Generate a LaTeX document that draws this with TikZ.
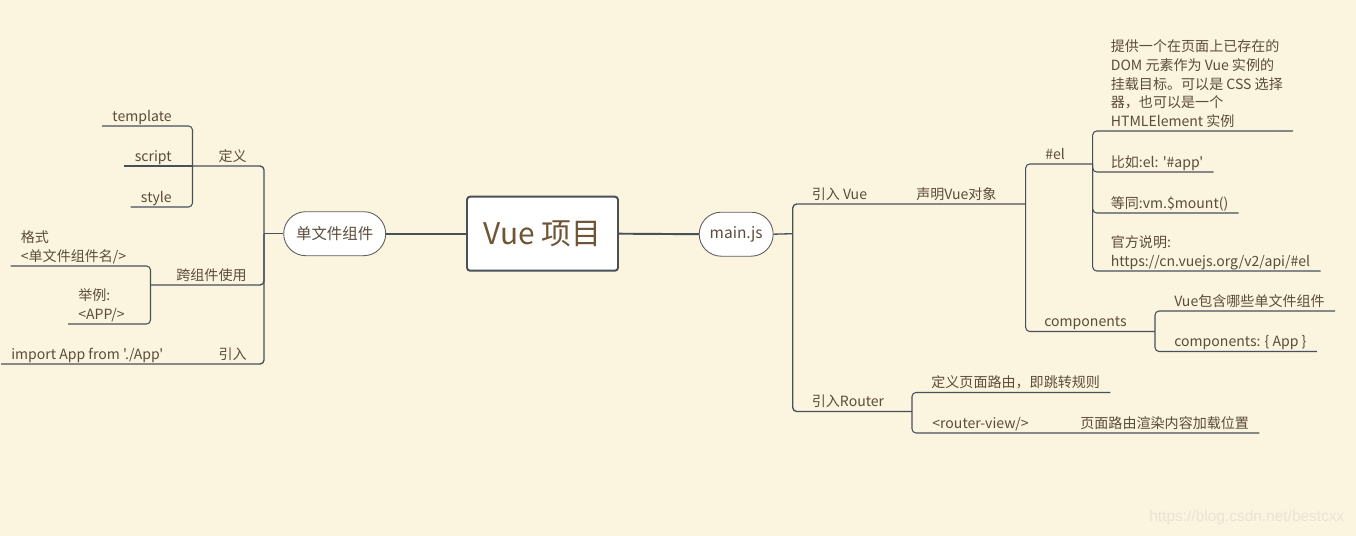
\documentclass[tikz,border=0pt]{standalone}
\usepackage{fontspec}
\setmainfont{Noto Sans CJK SC}[Ligatures=TeXOff]
\newfontfamily\wmfont{Liberation Sans}
\usepackage{tikz}
\usetikzlibrary{calc}

\definecolor{paper}{HTML}{FBF4DE}
\definecolor{ink}{HTML}{5C4C3B}
\definecolor{rootink}{HTML}{6F5535}
\definecolor{wire}{HTML}{48505A}
\definecolor{rim}{HTML}{5E5E5E}
\definecolor{wmark}{HTML}{E9E4D6}

\begin{document}
\begin{tikzpicture}[
  x=0.02cm, y=-0.02cm,
  hub/.style={draw=wire, line width=1.1pt, fill=white, rounded corners=0.06cm,
              minimum width=3.02cm, minimum height=1.48cm, inner sep=0pt,
              text=rootink, font=\fontsize{17}{20}\selectfont},
  pill/.style={draw=rim, line width=0.5pt, fill=white, rounded corners=0.44cm,
               minimum height=0.88cm, inner sep=0pt,
               text=ink, font=\fontsize{8.8}{11}\selectfont},
  topic/.style={inner xsep=0.2cm, inner ysep=0.085cm, text depth=0pt,
                align=left, text=ink, font=\fontsize{8}{10.6}\selectfont},
  main/.style={wire, line width=1.1pt},
  trunk/.style={wire, line width=0.75pt, rounded corners=0.08cm},
  twig/.style={wire, line width=0.6pt, rounded corners=0.08cm},
]
\useasboundingbox (0,0) rectangle (1356,536);
\fill[paper] (0,0) rectangle (1356,536);

% ---- Root and first level --------------------------------------------------
\node[hub]  (root) at (542.5,233.7) {Vue 项目};
\node[pill, minimum width=2.04cm] (sfc) at (334.7,233.7) {单文件组件};
\node[pill, minimum width=1.48cm] (mjs) at (736.2,234.2) {main.js};
\draw[main] (sfc.east) -- (root.west);
\draw[main] (root.east) -- (mjs.west);

% ---- Left: single file component ------------------------------------------
\coordinate (jl)   at (264,233.7);
\coordinate (jdef) at (192.5,166);
\coordinate (juse) at (150.5,285);

\node[topic, anchor=south east] (def) at (257,166) {定义};
\node[topic, anchor=south east] (tpl) at (182,126) {template};
\node[topic, anchor=south east] (scr) at (182,166) {script};
\node[topic, anchor=south east] (sty) at (182,207) {style};
\node[topic, anchor=south east] (use) at (257,285) {跨组件使用};
\node[topic, anchor=south west] (fmt) at (10.5,266) {格式\\<单文件组件名/>};
\node[topic, anchor=south west] (exa) at (68,324) {举例:\\<APP/>};
\node[topic, anchor=south east] (imp) at (257,364) {引入};
\node[topic, anchor=south west] (app) at (1,364) {import App from './App'};

\draw[trunk] (sfc.west) -- (jl);
\draw[trunk] (jl) |- (def.south east) -- (def.south west) -- (jdef);
\draw[trunk] (jl) |- (use.south east) -- (use.south west) -- (juse);
\draw[trunk] (jl) |- (imp.south east) -- (imp.south west)
  -- (app.south east) -- (app.south west);
\draw[twig] (jdef) |- (tpl.south east) -- (tpl.south west);
\draw[twig] (jdef) -- (scr.south east) -- (scr.south west);
\draw[twig] (jdef) |- (sty.south east) -- (sty.south west);
\draw[twig] (juse) |- (fmt.south east) -- (fmt.south west);
\draw[twig] (juse) |- (exa.south east) -- (exa.south west);

% ---- Right: main.js --------------------------------------------------------
\coordinate (jr)   at (792.7,233.7);
\coordinate (jdcl) at (1025.7,204);
\coordinate (jel)  at (1092.7,164);
\coordinate (jcmp) at (1155,331.5);
\coordinate (jrtr) at (912,411.5);

\node[topic, anchor=south west] (vue)  at (801.5,204) {引入 Vue};
\node[topic, anchor=south west] (decl) at (906,204) {声明Vue对象};
\node[topic, anchor=south west] (el)   at (1035,164) {\#el};
\node[topic, anchor=south west] (desc) at (1100.5,131)
  {提供一个在页面上已存在的\\DOM 元素作为 Vue 实例的\\挂载目标。可以是 CSS 选择\\器，也可以是一个\\HTMLElement 实例};
\node[topic, anchor=south west] (ex)   at (1100.5,172) {比如:el: '\#app'};
\node[topic, anchor=south west] (eq)   at (1100.5,213) {等同:vm.\$mount()};
\node[topic, anchor=south west] (doc)  at (1100.5,271)
  {官方说明:\\https://cn.vuejs.org/v2/api/\#el};
\node[topic, anchor=south west] (cmp)  at (1034,331.5) {components};
\node[topic, anchor=south west] (cmpa) at (1164,311) {Vue包含哪些单文件组件};
\node[topic, anchor=south west] (cmpb) at (1164,351.5) {components: \{ App \}};
\node[topic, anchor=south west] (rtr)  at (801.5,411.5) {引入Router};
\node[topic, anchor=south west] (rule) at (921,392.5) {定义页面路由，即跳转规则};
\node[topic, anchor=south west] (view) at (922,433) {<router-view/>};
\node[topic, anchor=south west] (pos)  at (1070,433) {页面路由渲染内容加载位置};

\draw[trunk] (mjs.east) -- (jr);
\draw[trunk] (jr) |- (vue.south west) -- (vue.south east)
  -- (decl.south west) -- (decl.south east) -- (jdcl);
\draw[trunk] (jr) |- (rtr.south west) -- (rtr.south east) -- (jrtr);
\draw[twig] (jdcl) |- (el.south west) -- (el.south east) -- (jel);
\draw[twig] (jdcl) |- (cmp.south west) -- (cmp.south east) -- (jcmp);
\draw[twig] (jel) |- (desc.south west) -- (desc.south east);
\draw[twig] (jel) |- (ex.south west) -- (ex.south east);
\draw[twig] (jel) |- (eq.south west) -- (eq.south east);
\draw[twig] (jel) |- (doc.south west) -- (doc.south east);
\draw[twig] (jcmp) |- (cmpa.south west) -- (cmpa.south east);
\draw[twig] (jcmp) |- (cmpb.south west) -- (cmpb.south east);
\draw[twig] (jrtr) |- (rule.south west) -- (rule.south east);
\draw[twig] (jrtr) |- (view.south west) -- (view.south east)
  -- (pos.south west) -- (pos.south east);

% ---- Watermark -------------------------------------------------------------
\node[anchor=west, inner sep=0pt, text=wmark, font=\wmfont\fontsize{8.8}{10}\selectfont]
  (wm) at (1149,518) {https://blog.csdn.net/bestcxx};

\end{tikzpicture}
\end{document}
